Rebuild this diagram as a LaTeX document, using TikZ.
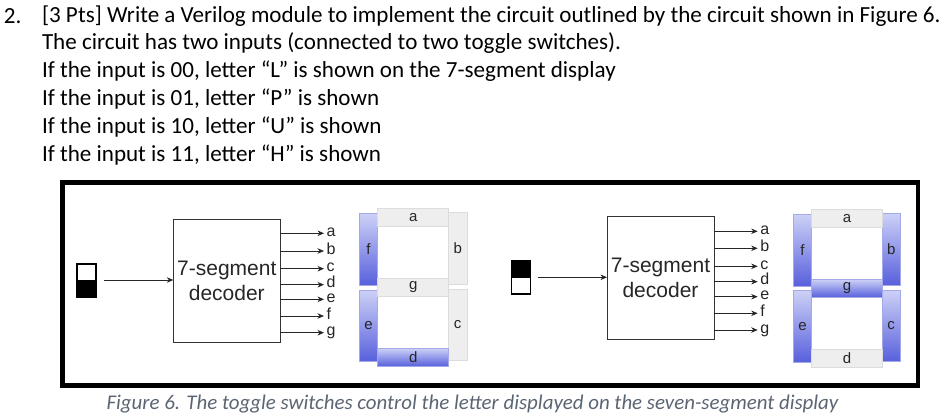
\documentclass[tikz,border=0pt]{standalone}
\usepackage{fontspec}
\setmainfont{Carlito}
\newfontfamily\arialfont{Liberation Sans}
\usetikzlibrary{arrows.meta}
\definecolor{segtop}{HTML}{CDD1F7}
\definecolor{segbot}{HTML}{5860DC}
\definecolor{segline}{HTML}{A4A9E8}
\definecolor{offfill}{HTML}{EEEEEE}
\definecolor{offline}{HTML}{DCDCDC}
\definecolor{capcolor}{HTML}{5B6573}
\tikzset{every node/.style={outer sep=0}}
\tikzstyle{decoder} = [rectangle, anchor=north west, minimum width=107, minimum height=123, inner sep=0, draw=black!80, line width=0.8pt, align=center, font=\arialfont\fontsize{21}{25}\selectfont, text=black!85]
\tikzstyle{sw} = [rectangle, anchor=north west, minimum width=19, minimum height=33, inner sep=0, draw=black, line width=1.6pt, fill=white]
\tikzstyle{swblack} = [rectangle, anchor=north west, minimum width=19, minimum height=16.5, inner sep=0, draw=black, line width=1.6pt, fill=black]
\tikzstyle{arrow} = [-{Stealth[length=6.5,width=5.5]},line width=0.7pt,black!85]
\tikzstyle{seg} = [rectangle, anchor=north west, inner sep=0, line width=0.6pt, font=\arialfont\fontsize{15}{17}\selectfont, text=black!85]
\tikzstyle{vert} = [minimum width=18.4, minimum height=71.5]
\tikzstyle{horz} = [minimum width=71, minimum height=18]
\tikzstyle{segon} = [seg, top color=segtop, bottom color=segbot, draw=segline]
\tikzstyle{segoff} = [seg, fill=offfill, draw=offline]
\tikzstyle{outlabel} = [anchor=west, inner ysep=0, inner xsep=2.7, text height=9, text depth=3, font=\arialfont\fontsize{16}{18}\selectfont, text=black!85]
\begin{document}
\begin{tikzpicture}[x=1pt,y=-1pt]
	\useasboundingbox (0,0) rectangle (944,417);
	\node (num) [anchor=base west, inner sep=0, font=\fontsize{23.07}{28}\selectfont] at (4,23.5) {2.};
	\node (question) [anchor=north west, inner sep=0, align=left, font=\fontsize{23.07}{28}\selectfont] at (42,5.5) {[3 Pts] Write a Verilog module to implement the circuit outlined by the circuit shown in Figure 6.\\[-1pt]The circuit has two inputs (connected to two toggle switches).\\If the input is 00, letter “L” is shown on the 7-segment display\\If the input is 01, letter “P” is shown\\If the input is 10, letter “U” is shown\\If the input is 11, letter “H” is shown};
	\node (frame) [rectangle, anchor=north west, minimum width=855.5, minimum height=203, inner sep=0, draw=black, line width=4.5pt] at (62.5,182.5) {};
	\node (caption) [anchor=base, inner sep=0, text=capcolor, font=\itshape\fontsize{20.9}{24}\selectfont] at (472.5,409) {Figure 6. The toggle switches control the letter displayed on the seven-segment display};

	% left display
	\node (swL) [sw] at (77,264) {};
	\node (swLb) [swblack] at (77,280.7) {};
	\node (decL) [decoder] at (173.3,219) {7-segment\\decoder};
	\coordinate (swLout) at (104,280);
	\draw [arrow] (swLout) -- (decL.west |- swLout);
	\node (aL) [outlabel] at (324,233.3) {a};
	\node (bL) [outlabel] at (324,251) {b};
	\node (cL) [outlabel] at (324,268.7) {c};
	\node (dL) [outlabel] at (324,284.7) {d};
	\node (eL) [outlabel] at (324,299.3) {e};
	\node (fL) [outlabel] at (324,316) {f};
	\node (gL) [outlabel] at (324,332.7) {g};
	\draw [arrow] (decL.east |- aL) -- (aL.west);
	\draw [arrow] (decL.east |- bL) -- (bL.west);
	\draw [arrow] (decL.east |- cL) -- (cL.west);
	\draw [arrow] (decL.east |- dL) -- (dL.west);
	\draw [arrow] (decL.east |- eL) -- (eL.west);
	\draw [arrow] (decL.east |- fL) -- (fL.west);
	\draw [arrow] (decL.east |- gL) -- (gL.west);
	\node (segfL) [segon, vert] at (359.3,213.5) {f};
	\node (segeL) [segon, vert] at (359.3,290) {e};
	\node (segbL) [segoff, vert] at (448.5,212.5) {b};
	\node (segcL) [segoff, vert] at (448.5,289) {c};
	\node (segaL) [segoff, horz] at (377.7,208.3) {a};
	\node (seggL) [segoff, horz] at (377.7,278.5) {g};
	\node (segdL) [segon, horz] at (377.7,348.3) {d};

	% right display
	\node (swR) [sw] at (511.5,261) {};
	\node (swRb) [swblack] at (511.5,261) {};
	\node (decR) [decoder] at (607,216.3) {7-segment\\decoder};
	\coordinate (swRout) at (538,277.3);
	\draw [arrow] (swRout) -- (decR.west |- swRout);
	\node (aR) [outlabel] at (757.7,231.3) {a};
	\node (bR) [outlabel] at (757.7,248.3) {b};
	\node (cR) [outlabel] at (757.7,266.3) {c};
	\node (dR) [outlabel] at (757.7,281.7) {d};
	\node (eR) [outlabel] at (757.7,296.7) {e};
	\node (fR) [outlabel] at (757.7,313.3) {f};
	\node (gR) [outlabel] at (757.7,330) {g};
	\draw [arrow] (decR.east |- aR) -- (aR.west);
	\draw [arrow] (decR.east |- bR) -- (bR.west);
	\draw [arrow] (decR.east |- cR) -- (cR.west);
	\draw [arrow] (decR.east |- dR) -- (dR.west);
	\draw [arrow] (decR.east |- eR) -- (eR.west);
	\draw [arrow] (decR.east |- fR) -- (fR.west);
	\draw [arrow] (decR.east |- gR) -- (gR.west);
	\node (segfR) [segon, vert] at (793.3,214.3) {f};
	\node (segeR) [segon, vert] at (793.3,290.3) {e};
	\node (segbR) [segon, vert] at (882,213.3) {b};
	\node (segcR) [segon, vert] at (882,290) {c};
	\node (segaR) [segoff, horz] at (811.5,209.3) {a};
	\node (seggR) [segon, horz] at (811.5,279.3) {g};
	\node (segdR) [segoff, horz] at (811.5,349.3) {d};
\end{tikzpicture}
\end{document}
